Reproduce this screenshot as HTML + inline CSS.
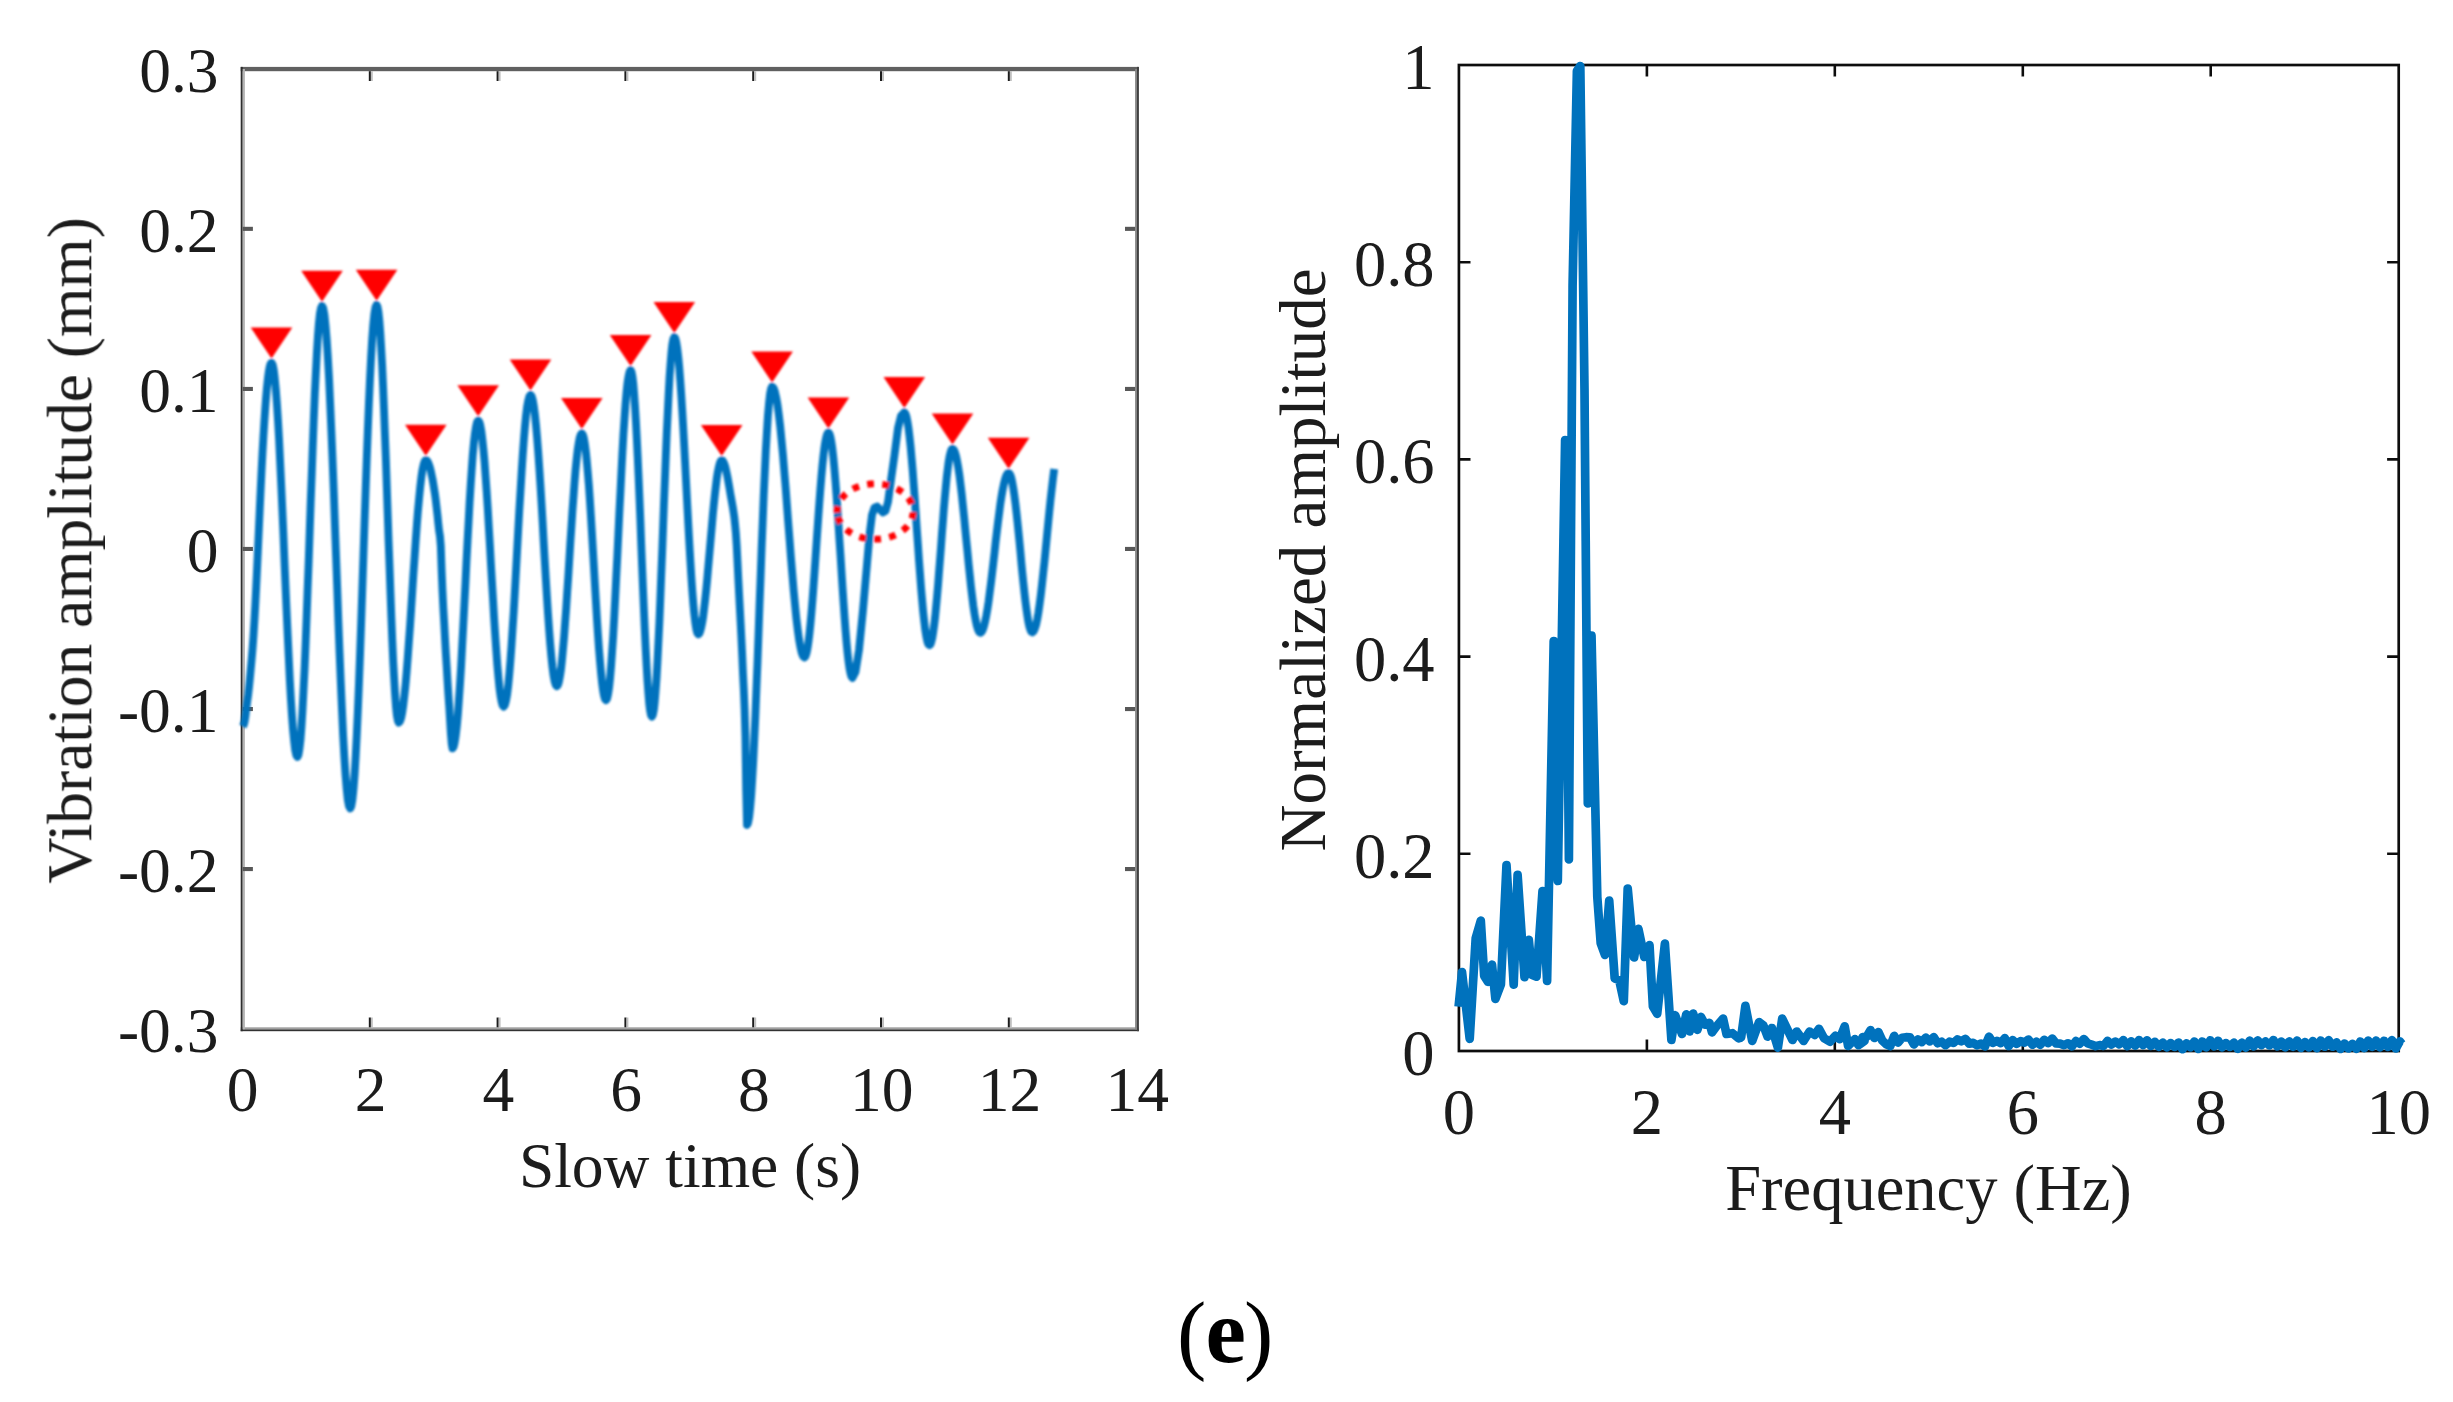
<!DOCTYPE html>
<html lang="en"><head><meta charset="utf-8"><title>Figure (e)</title>
<style>html,body{margin:0;padding:0;background:#fff}svg{display:block}text{font-family:"Liberation Serif",serif}</style></head><body>
<svg width="2453" height="1402" viewBox="0 0 2453 1402">
<rect width="2453" height="1402" fill="#fff"/>
<defs><filter id="sl" x="-2%" y="-2%" width="104%" height="104%"><feGaussianBlur stdDeviation="1.0"/></filter><filter id="sr" x="-2%" y="-2%" width="104%" height="104%"><feGaussianBlur stdDeviation="0.4"/></filter></defs>
<g id="left-axes" filter="url(#sr)">
<rect x="240.7" y="66.9" width="898.2" height="4.3" fill="#606060"/>
<rect x="240.7" y="1027.3" width="898.2" height="2.1" fill="#a0a0a0"/>
<rect x="240.7" y="1029.4" width="898.2" height="1.8" fill="#333333"/>
<rect x="240.7" y="66.9" width="2.0" height="964.3" fill="#2d2d2d"/>
<rect x="242.7" y="69.0" width="2.2" height="960.2" fill="#b4b4b4"/>
<rect x="1135.1" y="69.0" width="1.9" height="960.2" fill="#858585"/>
<rect x="1137.0" y="66.9" width="1.9" height="964.3" fill="#404040"/>
<rect x="368.8" y="71.2" width="2.1" height="9.8" fill="#1f1f1f"/>
<rect x="370.9" y="71.2" width="1.9" height="9.8" fill="#c0c0c0"/>
<rect x="368.8" y="1017.5" width="2.1" height="9.8" fill="#1f1f1f"/>
<rect x="370.9" y="1017.5" width="1.9" height="9.8" fill="#c0c0c0"/>
<rect x="496.6" y="71.2" width="2.1" height="9.8" fill="#1f1f1f"/>
<rect x="498.7" y="71.2" width="1.9" height="9.8" fill="#c0c0c0"/>
<rect x="496.6" y="1017.5" width="2.1" height="9.8" fill="#1f1f1f"/>
<rect x="498.7" y="1017.5" width="1.9" height="9.8" fill="#c0c0c0"/>
<rect x="624.4" y="71.2" width="2.1" height="9.8" fill="#1f1f1f"/>
<rect x="626.5" y="71.2" width="1.9" height="9.8" fill="#c0c0c0"/>
<rect x="624.4" y="1017.5" width="2.1" height="9.8" fill="#1f1f1f"/>
<rect x="626.5" y="1017.5" width="1.9" height="9.8" fill="#c0c0c0"/>
<rect x="752.2" y="71.2" width="2.1" height="9.8" fill="#1f1f1f"/>
<rect x="754.3" y="71.2" width="1.9" height="9.8" fill="#c0c0c0"/>
<rect x="752.2" y="1017.5" width="2.1" height="9.8" fill="#1f1f1f"/>
<rect x="754.3" y="1017.5" width="1.9" height="9.8" fill="#c0c0c0"/>
<rect x="880.0" y="71.2" width="2.1" height="9.8" fill="#1f1f1f"/>
<rect x="882.1" y="71.2" width="1.9" height="9.8" fill="#c0c0c0"/>
<rect x="880.0" y="1017.5" width="2.1" height="9.8" fill="#1f1f1f"/>
<rect x="882.1" y="1017.5" width="1.9" height="9.8" fill="#c0c0c0"/>
<rect x="1007.8" y="71.2" width="2.1" height="9.8" fill="#1f1f1f"/>
<rect x="1009.9" y="71.2" width="1.9" height="9.8" fill="#c0c0c0"/>
<rect x="1007.8" y="1017.5" width="2.1" height="9.8" fill="#1f1f1f"/>
<rect x="1009.9" y="1017.5" width="1.9" height="9.8" fill="#c0c0c0"/>
<rect x="242.7" y="226.8" width="10.2" height="4.1" fill="#585858"/>
<rect x="1125.0" y="226.8" width="10.1" height="4.1" fill="#585858"/>
<rect x="242.7" y="386.9" width="10.2" height="4.1" fill="#585858"/>
<rect x="1125.0" y="386.9" width="10.1" height="4.1" fill="#585858"/>
<rect x="242.7" y="546.9" width="10.2" height="4.1" fill="#585858"/>
<rect x="1125.0" y="546.9" width="10.1" height="4.1" fill="#585858"/>
<rect x="242.7" y="707.0" width="10.2" height="4.1" fill="#585858"/>
<rect x="1125.0" y="707.0" width="10.1" height="4.1" fill="#585858"/>
<rect x="242.7" y="867.0" width="10.2" height="4.1" fill="#585858"/>
<rect x="1125.0" y="867.0" width="10.1" height="4.1" fill="#585858"/>
</g>
<g id="left" filter="url(#sl)">
<polyline points="242.7,726.5 243.6,725.0 244.5,722.1 245.4,716.7 246.3,708.8 247.2,701.7 248.1,695.2 249.0,687.4 249.9,678.4 250.8,668.7 251.7,658.9 252.6,648.2 253.5,635.6 254.4,621.0 255.3,604.7 256.2,587.0 257.1,568.1 258.0,548.4 258.9,528.3 259.8,508.3 260.7,488.8 261.6,470.1 262.5,452.8 263.4,436.9 264.3,422.2 265.2,408.9 266.1,397.1 267.0,386.8 267.9,378.3 268.8,371.5 269.7,366.7 270.6,363.7 271.5,362.8 272.6,364.4 273.7,369.5 274.7,377.8 275.8,389.2 276.9,403.5 278.0,420.5 279.1,439.9 280.1,461.3 281.2,484.4 282.3,508.8 283.4,534.1 284.4,559.9 285.5,585.6 286.6,610.9 287.7,635.3 288.8,658.4 289.8,679.8 290.9,699.2 292.0,716.2 293.1,730.5 294.2,741.9 295.2,750.2 296.3,755.3 297.4,757.0 298.4,755.0 299.4,749.3 300.5,739.8 301.5,726.7 302.5,710.4 303.5,690.9 304.6,668.7 305.6,644.2 306.6,617.7 307.6,589.8 308.7,560.9 309.7,531.5 310.7,502.0 311.8,473.1 312.8,445.2 313.8,418.7 314.8,394.2 315.9,372.0 316.9,352.5 317.9,336.2 318.9,323.1 319.9,313.6 321.0,307.9 322.0,305.9 323.2,308.1 324.4,314.5 325.5,325.1 326.7,339.6 327.9,357.9 329.1,379.5 330.2,404.2 331.4,431.5 332.6,461.0 333.8,492.1 334.9,524.4 336.1,557.1 337.3,589.9 338.4,622.2 339.6,653.3 340.8,682.8 342.0,710.1 343.1,734.8 344.3,756.4 345.5,774.7 346.7,789.2 347.8,799.8 349.0,806.2 350.2,808.4 351.3,806.2 352.4,799.8 353.5,789.2 354.6,774.6 355.7,756.3 356.8,734.6 357.9,709.9 359.0,682.5 360.1,653.0 361.2,621.8 362.3,589.5 363.4,556.7 364.5,523.8 365.6,491.5 366.7,460.3 367.8,430.8 368.9,403.4 370.0,378.7 371.1,357.0 372.2,338.7 373.3,324.1 374.4,313.5 375.5,307.1 376.6,304.9 377.5,306.7 378.5,312.1 379.4,320.8 380.3,332.9 381.2,348.1 382.2,366.1 383.1,386.7 384.0,409.4 384.9,433.9 385.9,459.7 386.8,486.5 387.7,513.8 388.6,541.1 389.6,567.9 390.5,593.7 391.4,618.2 392.3,640.9 393.2,661.5 394.2,679.5 395.1,694.7 396.0,706.8 396.9,715.5 397.9,720.9 398.8,722.6 399.9,721.5 401.1,718.2 402.2,712.7 403.3,705.1 404.4,695.5 405.6,684.2 406.7,671.3 407.8,657.0 408.9,641.6 410.1,625.3 411.2,608.5 412.3,591.4 413.4,574.2 414.6,557.4 415.7,541.1 416.8,525.7 417.9,511.4 419.1,498.5 420.2,487.2 421.3,477.6 422.4,470.0 423.6,464.5 424.7,461.2 425.8,460.1 426.6,460.4 427.5,461.3 428.3,462.8 429.1,465.0 430.0,467.7 430.8,470.9 431.6,474.7 432.5,479.0 433.3,483.7 434.1,488.7 435.0,494.3 435.8,500.4 436.6,507.4 437.5,515.3 438.3,523.4 439.1,530.6 440.0,536.4 440.8,546.1 441.7,571.6 442.5,591.1 443.3,607.6 444.2,623.3 445.0,638.5 445.8,652.7 446.7,666.7 447.5,680.6 448.3,693.4 449.2,706.1 450.0,719.2 450.8,732.7 451.7,743.9 452.5,748.4 453.6,746.9 454.6,742.8 455.7,735.9 456.8,726.4 457.9,714.5 458.9,700.3 460.0,684.2 461.1,666.4 462.1,647.2 463.2,626.9 464.3,605.8 465.4,584.5 466.4,563.1 467.5,542.0 468.6,521.7 469.6,502.5 470.7,484.7 471.8,468.6 472.8,454.4 473.9,442.5 475.0,433.0 476.1,426.1 477.1,422.0 478.2,420.6 479.3,421.8 480.3,425.4 481.4,431.4 482.4,439.7 483.5,450.1 484.6,462.4 485.6,476.5 486.7,492.1 487.8,508.9 488.8,526.6 489.9,544.9 490.9,563.6 492.0,582.3 493.1,600.6 494.1,618.3 495.2,635.1 496.3,650.7 497.3,664.8 498.4,677.1 499.4,687.5 500.5,695.8 501.6,701.8 502.6,705.4 503.7,706.6 504.8,705.3 505.9,701.3 507.1,694.8 508.2,685.8 509.3,674.4 510.4,661.0 511.5,645.7 512.6,628.7 513.8,610.4 514.9,591.1 516.0,571.1 517.1,550.8 518.2,530.4 519.3,510.4 520.5,491.1 521.6,472.8 522.7,455.8 523.8,440.5 524.9,427.1 526.0,415.7 527.1,406.7 528.3,400.2 529.4,396.2 530.5,394.9 531.6,396.1 532.7,399.8 533.8,405.9 534.9,414.4 536.0,425.0 537.1,437.5 538.2,451.9 539.3,467.7 540.4,484.8 541.5,502.8 542.6,521.5 543.6,540.5 544.7,559.6 545.8,578.3 546.9,596.3 548.0,613.4 549.1,629.2 550.2,643.6 551.3,656.1 552.4,666.7 553.5,675.2 554.6,681.3 555.7,685.0 556.8,686.2 557.8,685.2 558.9,681.9 559.9,676.6 561.0,669.3 562.0,660.1 563.0,649.2 564.1,636.8 565.1,623.0 566.2,608.2 567.2,592.5 568.3,576.3 569.3,559.8 570.3,543.3 571.4,527.1 572.4,511.4 573.5,496.6 574.5,482.8 575.5,470.4 576.6,459.5 577.6,450.3 578.7,443.0 579.7,437.7 580.8,434.4 581.8,433.4 582.8,434.5 583.8,437.9 584.8,443.5 585.8,451.2 586.8,460.9 587.8,472.4 588.9,485.6 589.9,500.1 590.9,515.7 591.9,532.3 592.9,549.4 593.9,566.8 594.9,584.2 595.9,601.3 596.9,617.9 597.9,633.5 598.9,648.0 600.0,661.2 601.0,672.7 602.0,682.4 603.0,690.1 604.0,695.7 605.0,699.1 606.0,700.2 607.0,698.8 608.0,694.6 609.1,687.7 610.1,678.1 611.1,666.2 612.1,651.9 613.2,635.7 614.2,617.8 615.2,598.4 616.2,578.0 617.3,556.8 618.3,535.2 619.3,513.7 620.4,492.5 621.4,472.1 622.4,452.8 623.4,434.8 624.5,418.6 625.5,404.3 626.5,392.4 627.5,382.8 628.6,375.9 629.6,371.7 630.6,370.2 631.5,371.7 632.4,376.2 633.3,383.4 634.1,393.5 635.0,406.0 635.9,421.0 636.8,438.0 637.7,456.8 638.6,477.2 639.5,498.6 640.4,520.8 641.2,543.4 642.1,566.1 643.0,588.3 643.9,609.7 644.8,630.0 645.7,648.9 646.6,665.9 647.5,680.9 648.4,693.4 649.2,703.5 650.1,710.7 651.0,715.2 651.9,716.6 652.8,715.0 653.8,710.2 654.7,702.2 655.6,691.2 656.6,677.4 657.5,661.1 658.4,642.4 659.4,621.8 660.3,599.5 661.2,576.0 662.2,551.7 663.1,527.0 664.0,502.2 665.0,477.9 665.9,454.4 666.8,432.1 667.8,411.5 668.7,392.8 669.6,376.5 670.6,362.7 671.5,351.7 672.4,343.7 673.4,338.9 674.3,337.2 675.3,338.5 676.3,342.3 677.3,348.6 678.3,357.1 679.3,367.9 680.3,380.7 681.3,395.3 682.3,411.5 683.3,428.9 684.3,447.3 685.3,466.4 686.3,485.8 687.3,505.1 688.3,524.2 689.3,542.6 690.3,560.0 691.3,576.2 692.3,590.8 693.3,603.6 694.3,614.4 695.3,622.9 696.3,629.2 697.3,633.0 698.3,634.2 699.3,633.5 700.2,631.3 701.2,627.6 702.2,622.6 703.2,616.3 704.1,608.8 705.1,600.2 706.1,590.8 707.1,580.5 708.0,569.8 709.0,558.6 710.0,547.2 711.0,535.9 712.0,524.7 712.9,514.0 713.9,503.8 714.9,494.3 715.9,485.7 716.8,478.2 717.8,471.9 718.8,466.9 719.8,463.2 720.7,461.0 721.7,460.2 722.5,460.6 723.3,461.7 724.1,463.4 724.9,465.6 725.7,468.5 726.4,471.8 727.2,475.5 728.0,479.7 728.8,484.2 729.6,488.9 730.4,493.8 731.2,498.3 732.0,502.8 732.8,507.3 733.6,512.3 734.4,518.0 735.1,524.9 735.9,533.4 736.7,545.8 737.5,561.7 738.3,578.6 739.1,594.2 739.9,609.3 740.7,624.4 741.5,640.1 742.3,657.2 743.0,674.0 743.8,689.7 744.6,709.2 745.4,736.4 746.2,790.4 747.0,825.0 748.0,823.1 749.1,817.5 750.1,808.3 751.2,795.6 752.2,779.7 753.3,760.8 754.3,739.2 755.4,715.4 756.4,689.7 757.5,662.5 758.5,634.4 759.5,605.8 760.6,577.2 761.6,549.1 762.7,521.9 763.7,496.2 764.8,472.4 765.8,450.8 766.9,431.9 767.9,416.0 769.0,403.3 770.0,394.1 771.1,388.5 772.1,386.6 773.4,387.8 774.8,391.3 776.1,397.0 777.5,404.8 778.8,414.6 780.2,426.3 781.5,439.6 782.9,454.3 784.2,470.2 785.6,487.0 786.9,504.4 788.2,522.0 789.6,539.7 790.9,557.1 792.3,573.9 793.6,589.8 795.0,604.5 796.3,617.8 797.7,629.5 799.0,639.3 800.4,647.1 801.7,652.8 803.1,656.3 804.4,657.5 805.4,656.5 806.4,653.6 807.4,648.9 808.4,642.4 809.4,634.2 810.4,624.5 811.4,613.5 812.4,601.2 813.4,588.1 814.4,574.1 815.4,559.7 816.4,545.1 817.4,530.4 818.4,516.0 819.4,502.0 820.4,488.9 821.4,476.6 822.4,465.6 823.4,455.9 824.4,447.7 825.4,441.2 826.4,436.5 827.4,433.6 828.4,432.6 829.4,433.7 830.4,436.8 831.4,442.0 832.4,449.1 833.4,458.0 834.4,468.5 835.4,480.6 836.4,493.9 837.4,508.3 838.4,523.5 839.4,539.2 840.5,555.2 841.5,571.2 842.5,586.9 843.5,602.1 844.5,616.5 845.5,629.8 846.5,641.9 847.5,652.4 848.5,661.3 849.5,668.4 850.5,673.6 851.5,676.7 852.5,677.8 855.5,672.0 859.0,650.0 863.0,610.0 866.5,570.0 869.5,535.0 872.0,515.0 874.5,507.5 877.0,506.5 880.0,509.5 883.0,512.5 885.5,511.0 888.0,502.0 891.0,480.0 894.5,455.0 898.0,428.0 901.0,416.0 904.3,412.4 905.3,413.3 906.4,416.3 907.4,421.2 908.5,428.0 909.5,436.4 910.6,446.5 911.6,457.9 912.7,470.6 913.7,484.2 914.8,498.7 915.8,513.6 916.8,528.8 917.9,544.0 918.9,558.9 920.0,573.4 921.0,587.0 922.1,599.7 923.1,611.1 924.2,621.2 925.2,629.6 926.3,636.4 927.3,641.3 928.4,644.3 929.4,645.2 930.4,644.4 931.3,641.9 932.3,637.8 933.2,632.1 934.2,624.9 935.2,616.5 936.1,606.8 937.1,596.1 938.1,584.6 939.0,572.4 940.0,559.8 941.0,547.0 941.9,534.2 942.9,521.6 943.8,509.4 944.8,497.9 945.8,487.2 946.7,477.5 947.7,469.1 948.6,461.9 949.6,456.2 950.6,452.1 951.5,449.6 952.5,448.8 953.7,449.5 954.8,451.9 956.0,455.8 957.1,461.1 958.3,467.8 959.5,475.7 960.6,484.7 961.8,494.8 962.9,505.5 964.1,516.9 965.2,528.7 966.4,540.8 967.6,552.8 968.7,564.6 969.9,576.0 971.0,586.8 972.2,596.8 973.3,605.8 974.5,613.7 975.7,620.4 976.8,625.7 978.0,629.6 979.1,632.0 980.3,632.8 981.5,632.1 982.7,630.0 983.8,626.7 985.0,622.0 986.2,616.2 987.4,609.3 988.6,601.5 989.7,592.8 990.9,583.4 992.1,573.5 993.3,563.3 994.5,552.9 995.6,542.4 996.8,532.2 998.0,522.3 999.2,512.9 1000.3,504.2 1001.5,496.4 1002.7,489.5 1003.9,483.7 1005.1,479.0 1006.2,475.7 1007.4,473.6 1008.6,472.9 1009.6,473.6 1010.6,475.7 1011.6,479.0 1012.5,483.6 1013.5,489.4 1014.5,496.3 1015.5,504.1 1016.5,512.8 1017.5,522.2 1018.5,532.0 1019.5,542.2 1020.5,552.6 1021.4,563.1 1022.4,573.3 1023.4,583.1 1024.4,592.5 1025.4,601.2 1026.4,609.0 1027.4,615.9 1028.3,621.7 1029.3,626.3 1030.3,629.6 1031.3,631.7 1032.3,632.4 1033.5,631.5 1034.7,629.1 1036.0,625.1 1037.2,619.5 1038.4,612.6 1039.6,604.3 1040.8,594.9 1042.0,584.5 1043.2,573.3 1044.5,561.4 1045.7,549.2 1046.9,536.7 1048.1,524.2 1049.3,511.9 1050.5,500.1 1051.8,488.8 1053.0,478.4 1054.2,469.0" fill="none" stroke="#0072BD" stroke-width="7.8" stroke-linejoin="round"/>
<polygon points="250.7,327.5 292.3,327.5 271.5,358.5" fill="#FF0000"/>
<polygon points="301.2,270.7 342.8,270.7 322.0,301.7" fill="#FF0000"/>
<polygon points="355.8,269.7 397.4,269.7 376.6,300.7" fill="#FF0000"/>
<polygon points="405.0,424.8 446.6,424.8 425.8,455.8" fill="#FF0000"/>
<polygon points="457.4,385.3 499.0,385.3 478.2,416.3" fill="#FF0000"/>
<polygon points="509.7,359.6 551.3,359.6 530.5,390.6" fill="#FF0000"/>
<polygon points="561.0,398.1 602.6,398.1 581.8,429.1" fill="#FF0000"/>
<polygon points="609.8,335.0 651.4,335.0 630.6,366.0" fill="#FF0000"/>
<polygon points="653.5,302.0 695.1,302.0 674.3,333.0" fill="#FF0000"/>
<polygon points="700.9,425.0 742.5,425.0 721.7,456.0" fill="#FF0000"/>
<polygon points="751.3,351.4 792.9,351.4 772.1,382.4" fill="#FF0000"/>
<polygon points="807.6,397.4 849.2,397.4 828.4,428.4" fill="#FF0000"/>
<polygon points="883.5,377.1 925.1,377.1 904.3,408.1" fill="#FF0000"/>
<polygon points="931.7,413.5 973.3,413.5 952.5,444.5" fill="#FF0000"/>
<polygon points="987.8,437.7 1029.4,437.7 1008.6,468.7" fill="#FF0000"/>
<polyline points="837.15,512.95 837.11,511.98 837.11,511.02 837.15,510.05 837.24,509.09 837.38,508.12 837.57,507.17 837.80,506.21 838.07,505.27 838.39,504.33 838.76,503.40 839.17,502.48 839.62,501.57 840.12,500.68 840.66,499.79 841.24,498.92 841.86,498.07 842.53,497.23 843.23,496.41 843.97,495.61 844.75,494.83 845.57,494.07 846.42,493.33 847.31,492.61 848.23,491.91 849.18,491.24 850.17,490.59 851.19,489.97 852.23,489.38 853.30,488.81 854.40,488.27 855.53,487.76 856.68,487.27 857.85,486.82 859.04,486.40 860.25,486.00 861.48,485.64 862.73,485.31 863.99,485.01 865.26,484.74 866.55,484.51 867.85,484.31 869.16,484.14 870.47,484.01 871.79,483.91 873.11,483.84 874.44,483.80 875.76,483.80 877.09,483.84 878.41,483.91 879.73,484.01 881.04,484.14 882.35,484.31 883.65,484.51 884.94,484.74 886.21,485.01 887.47,485.31 888.72,485.64 889.95,486.00 891.16,486.40 892.35,486.82 893.52,487.27 894.67,487.76 895.80,488.27 896.90,488.81 897.97,489.38 899.01,489.97 900.03,490.59 901.02,491.24 901.97,491.91 902.89,492.61 903.78,493.33 904.63,494.07 905.45,494.83 906.23,495.61 906.97,496.41 907.67,497.23 908.34,498.07 908.96,498.92 909.54,499.79 910.08,500.68 910.58,501.57 911.03,502.48 911.44,503.40 911.81,504.33 912.13,505.27 912.40,506.21 912.63,507.17 912.82,508.12 912.96,509.09 913.05,510.05 913.09,511.02 913.09,511.98 913.05,512.95 912.96,513.91 912.82,514.88 912.63,515.83 912.40,516.79 912.13,517.73 911.81,518.67 911.44,519.60 911.03,520.52 910.58,521.43 910.08,522.32 909.54,523.21 908.96,524.08 908.34,524.93 907.67,525.77 906.97,526.59 906.23,527.39 905.45,528.17 904.63,528.93 903.78,529.67 902.89,530.39 901.97,531.09 901.02,531.76 900.03,532.41 899.01,533.03 897.97,533.62 896.90,534.19 895.80,534.73 894.67,535.24 893.52,535.73 892.35,536.18 891.16,536.60 889.95,537.00 888.72,537.36 887.47,537.69 886.21,537.99 884.94,538.26 883.65,538.49 882.35,538.69 881.04,538.86 879.73,538.99 878.41,539.09 877.09,539.16 875.76,539.20 874.44,539.20 873.11,539.16 871.79,539.09 870.47,538.99 869.16,538.86 867.85,538.69 866.55,538.49 865.26,538.26 863.99,537.99 862.73,537.69 861.48,537.36 860.25,537.00 859.04,536.60 857.85,536.18 856.68,535.73 855.53,535.24 854.40,534.73 853.30,534.19 852.23,533.62 851.19,533.03 850.17,532.41 849.18,531.76 848.23,531.09 847.31,530.39 846.42,529.67 845.57,528.93 844.75,528.17 843.97,527.39 843.23,526.59 842.53,525.77 841.86,524.93 841.24,524.08 840.66,523.21 840.12,522.32 839.62,521.43 839.17,520.52 838.76,519.60 838.39,518.67 838.07,517.73 837.80,516.79 837.57,515.83 837.38,514.88 837.24,513.91 837.15,512.95" fill="none" stroke="#FF0000" stroke-width="6.8" stroke-dasharray="6.8 8.33"/>
</g>
<g id="left-text" filter="url(#sr)">
<text x="242.7" y="1111.3" font-size="63.5" text-anchor="middle" fill="#1c1c1c">0</text>
<text x="370.5" y="1111.3" font-size="63.5" text-anchor="middle" fill="#1c1c1c">2</text>
<text x="498.3" y="1111.3" font-size="63.5" text-anchor="middle" fill="#1c1c1c">4</text>
<text x="626.1" y="1111.3" font-size="63.5" text-anchor="middle" fill="#1c1c1c">6</text>
<text x="753.9" y="1111.3" font-size="63.5" text-anchor="middle" fill="#1c1c1c">8</text>
<text x="881.7" y="1111.3" font-size="63.5" text-anchor="middle" fill="#1c1c1c">10</text>
<text x="1009.5" y="1111.3" font-size="63.5" text-anchor="middle" fill="#1c1c1c">12</text>
<text x="1137.3" y="1111.3" font-size="63.5" text-anchor="middle" fill="#1c1c1c">14</text>
<text x="218.5" y="91.5" font-size="63.5" text-anchor="end" fill="#1c1c1c">0.3</text>
<text x="218.5" y="251.5" font-size="63.5" text-anchor="end" fill="#1c1c1c">0.2</text>
<text x="218.5" y="411.6" font-size="63.5" text-anchor="end" fill="#1c1c1c">0.1</text>
<text x="218.5" y="571.6" font-size="63.5" text-anchor="end" fill="#1c1c1c">0</text>
<text x="218.5" y="731.7" font-size="63.5" text-anchor="end" fill="#1c1c1c">-0.1</text>
<text x="218.5" y="891.8" font-size="63.5" text-anchor="end" fill="#1c1c1c">-0.2</text>
<text x="218.5" y="1051.8" font-size="63.5" text-anchor="end" fill="#1c1c1c">-0.3</text>
<text x="690" y="1186.8" font-size="63.5" text-anchor="middle" fill="#1c1c1c">Slow time (s)</text>
<text transform="translate(91.3 550.3) rotate(-90)" font-size="63.5" text-anchor="middle" fill="#1c1c1c">Vibration amplitude (mm)</text>
</g>
<g id="right" filter="url(#sr)">
<rect x="1458.9" y="65.0" width="939.8" height="986.0" fill="none" stroke="#111111" stroke-width="2.7"/>
<path d="M1646.9 1051.0v-11.6M1646.9 65.0v11.6" stroke="#111111" stroke-width="2.6"/>
<path d="M1834.8 1051.0v-11.6M1834.8 65.0v11.6" stroke="#111111" stroke-width="2.6"/>
<path d="M2022.8 1051.0v-11.6M2022.8 65.0v11.6" stroke="#111111" stroke-width="2.6"/>
<path d="M2210.7 1051.0v-11.6M2210.7 65.0v11.6" stroke="#111111" stroke-width="2.6"/>
<path d="M1458.9 262.2h11.6M2398.7 262.2h-11.6" stroke="#111111" stroke-width="2.6"/>
<path d="M1458.9 459.4h11.6M2398.7 459.4h-11.6" stroke="#111111" stroke-width="2.6"/>
<path d="M1458.9 656.6h11.6M2398.7 656.6h-11.6" stroke="#111111" stroke-width="2.6"/>
<path d="M1458.9 853.8h11.6M2398.7 853.8h-11.6" stroke="#111111" stroke-width="2.6"/>
<polyline points="1458.6,1006.6 1462.0,972.1 1469.7,1038.8 1475.7,938.2 1480.8,920.7 1484.2,975.8 1488.0,981.8 1492.0,964.7 1495.4,998.9 1500.9,984.4 1506.5,865.0 1513.7,984.7 1517.6,874.8 1524.5,977.2 1528.8,939.9 1532.2,975.0 1536.5,976.7 1542.5,891.1 1547.1,981.0 1553.7,641.0 1557.8,881.0 1565.1,440.0 1568.9,859.5 1572.6,285.0 1576.9,71.0 1580.3,66.0 1584.5,390.0 1587.8,803.5 1591.5,635.5 1597.3,897.0 1600.7,943.3 1605.0,955.0 1609.2,900.5 1614.7,978.4 1619.2,980.1 1623.8,1001.2 1627.7,888.5 1634.1,957.5 1638.4,928.9 1644.3,957.0 1649.5,945.0 1652.9,1006.6 1657.2,1013.8 1664.9,943.6 1671.4,1040.0 1675.2,1015.2 1682.0,1034.0 1686.3,1014.3 1689.7,1031.5 1693.2,1013.5 1697.4,1029.8 1700.9,1016.9 1705.1,1024.6 1709.4,1022.9 1712.0,1032.3 1717.1,1025.5 1723.1,1018.6 1726.5,1034.0 1732.5,1033.2 1738.5,1038.3 1741.1,1037.5 1745.4,1005.8 1752.2,1040.9 1759.1,1022.1 1763.4,1025.5 1767.6,1036.6 1771.9,1028.0 1777.9,1047.7 1782.2,1018.6 1792.5,1040.0 1796.7,1031.5 1803.6,1040.9 1809.6,1031.5 1814.7,1034.9 1819.0,1028.9 1824.1,1038.3 1830.1,1041.7 1835.3,1035.8 1839.6,1039.2 1844.7,1026.3 1848.1,1046.0 1855.0,1039.2 1858.4,1045.2 1864.4,1040.9 1862.6,1037.1 1866.5,1037.0 1870.5,1030.1 1874.4,1038.0 1878.4,1032.0 1882.3,1040.6 1886.3,1044.3 1890.2,1046.1 1894.2,1035.9 1898.1,1042.6 1902.1,1037.7 1906.0,1037.2 1910.0,1037.4 1913.9,1044.4 1917.9,1039.5 1921.8,1042.0 1925.8,1037.6 1929.7,1041.4 1933.7,1037.1 1937.6,1043.3 1941.6,1041.7 1945.5,1045.1 1949.5,1041.7 1953.4,1042.9 1957.4,1039.4 1961.3,1041.3 1965.3,1038.9 1969.2,1043.6 1973.2,1042.9 1977.1,1045.3 1981.1,1043.6 1985.0,1046.4 1989.0,1036.7 1992.9,1042.8 1996.9,1040.9 2000.8,1043.1 2004.8,1038.2 2008.7,1046.0 2012.7,1040.1 2016.6,1043.7 2020.6,1041.2 2024.5,1042.5 2028.5,1039.5 2032.4,1044.7 2036.4,1041.8 2040.3,1044.7 2044.3,1039.9 2048.2,1043.2 2052.2,1038.6 2056.1,1043.4 2060.1,1043.7 2064.0,1045.1 2068.0,1043.3 2071.9,1046.3 2075.9,1041.0 2079.8,1043.7 2083.8,1039.0 2087.7,1043.4 2091.7,1044.7 2095.6,1046.1 2099.6,1045.1 2103.5,1045.9 2107.5,1040.9 2111.4,1044.6 2115.4,1041.6 2119.3,1044.3 2123.3,1040.2 2127.2,1046.2 2131.2,1041.4 2135.1,1045.7 2139.1,1040.1 2143.0,1045.1 2147.0,1040.3 2150.9,1046.0 2154.9,1041.9 2158.8,1046.9 2162.8,1042.6 2166.7,1047.3 2170.7,1043.1 2174.6,1046.9 2178.6,1042.5 2182.5,1049.2 2186.5,1043.3 2190.4,1047.3 2194.4,1041.6 2198.3,1049.0 2202.3,1041.5 2206.2,1047.3 2210.2,1040.3 2214.1,1046.4 2218.1,1040.8 2222.0,1047.3 2226.0,1043.1 2229.9,1047.0 2233.9,1042.7 2237.8,1048.8 2241.8,1042.7 2245.7,1047.6 2249.7,1040.7 2253.6,1046.4 2257.6,1040.4 2261.5,1045.1 2265.5,1041.6 2269.4,1045.5 2273.4,1040.0 2277.3,1046.4 2281.3,1041.5 2285.2,1047.3 2289.2,1041.4 2293.1,1046.8 2297.1,1040.6 2301.0,1047.9 2305.0,1042.0 2308.9,1047.4 2312.9,1041.1 2316.8,1048.1 2320.8,1040.5 2324.7,1046.7 2328.7,1040.2 2332.6,1046.7 2336.6,1042.4 2340.5,1049.0 2344.5,1043.5 2348.4,1048.5 2352.4,1043.9 2356.3,1048.9 2360.3,1041.5 2364.2,1048.1 2368.2,1040.6 2372.1,1046.8 2376.1,1040.6 2380.0,1047.3 2384.0,1040.8 2387.9,1046.9 2391.9,1040.2 2395.8,1048.5 2399.8,1041.4 2402.0,1044.0" fill="none" stroke="#0072BD" stroke-width="8.7" stroke-linejoin="round"/>
<text x="1458.9" y="1133.7" font-size="64.5" text-anchor="middle" fill="#1a1a1a">0</text>
<text x="1646.9" y="1133.7" font-size="64.5" text-anchor="middle" fill="#1a1a1a">2</text>
<text x="1834.8" y="1133.7" font-size="64.5" text-anchor="middle" fill="#1a1a1a">4</text>
<text x="2022.8" y="1133.7" font-size="64.5" text-anchor="middle" fill="#1a1a1a">6</text>
<text x="2210.7" y="1133.7" font-size="64.5" text-anchor="middle" fill="#1a1a1a">8</text>
<text x="2398.7" y="1133.7" font-size="64.5" text-anchor="middle" fill="#1a1a1a">10</text>
<text x="1434.5" y="89.0" font-size="64.5" text-anchor="end" fill="#1a1a1a">1</text>
<text x="1434.5" y="286.2" font-size="64.5" text-anchor="end" fill="#1a1a1a">0.8</text>
<text x="1434.5" y="483.4" font-size="64.5" text-anchor="end" fill="#1a1a1a">0.6</text>
<text x="1434.5" y="680.6" font-size="64.5" text-anchor="end" fill="#1a1a1a">0.4</text>
<text x="1434.5" y="877.8" font-size="64.5" text-anchor="end" fill="#1a1a1a">0.2</text>
<text x="1434.5" y="1075.0" font-size="64.5" text-anchor="end" fill="#1a1a1a">0</text>
<text x="1928.5" y="1210.1" font-size="64.5" text-anchor="middle" fill="#1a1a1a">Frequency (Hz)</text>
<text transform="translate(1325 560) rotate(-90)" font-size="65" text-anchor="middle" fill="#1a1a1a">Normalized amplitude</text>
</g>
<g id="caption" fill="#000">
<text font-size="88" y="1362.5"><tspan x="1177">(</tspan><tspan x="1205.5" y="1362" font-size="91" font-weight="bold">e</tspan><tspan x="1244" y="1362.5">)</tspan></text>
</g>
</svg></body></html>
